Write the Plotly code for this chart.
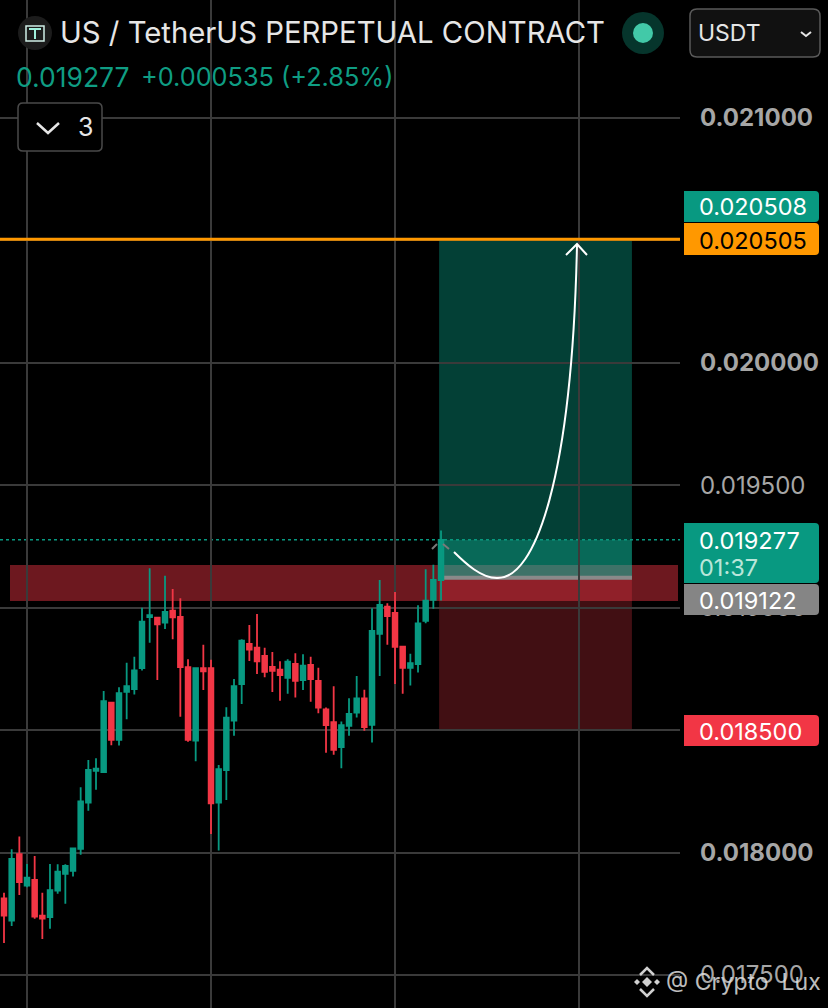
import plotly.graph_objects as go

WIDTH = 828
HEIGHT = 1008
PLOT_RIGHT = 680
FONT = "Inter"

GREEN = "#089981"
RED = "#F23645"
ORANGE = "#FF9800"
GRID = "#3a3a3a"

# prices in millionths of USDT
opens = [17813, 17722, 17993, 17865, 17888, 17742, 17736, 17844, 17913, 17925,
         18015, 18204, 18334, 18329, 18612, 18460, 18656, 18668, 18753, 18962,
         18959, 18939, 18988, 18962, 18757, 18457, 18753, 18753, 18204, 18337,
         18539, 18688, 18852, 18837, 18803, 18758, 18747, 18713, 18770, 18704,
         18766, 18701, 18585, 18532, 18431, 18517, 18571, 18630, 18521, 18893,
         19004, 18979, 18841, 18754, 18770, 18946, 19032, 19113]
highs = [17836, 18013, 18065, 17953, 17986, 17836, 17953, 17952, 17952, 18017,
         18267, 18378, 18385, 18660, 18612, 18675, 18775, 18800, 19000, 19161,
         18959, 19130, 19076, 19039, 18789, 18755, 18849, 18787, 18358, 18593,
         18709, 18871, 18929, 18974, 18836, 18819, 18781, 18789, 18814, 18810,
         18800, 18755, 18592, 18679, 18535, 18630, 18721, 18665, 18998, 19113,
         19018, 19064, 18845, 18812, 19010, 19157, 19175, 19315]
lows = [17630, 17700, 17827, 17858, 17730, 17647, 17689, 17832, 17791, 17902,
        17991, 18171, 18256, 18329, 18438, 18437, 18544, 18645, 18743, 18857,
        18705, 18913, 18871, 18555, 18452, 18373, 18664, 18076, 18008, 18215,
        18477, 18607, 18782, 18729, 18716, 18656, 18620, 18648, 18633, 18664,
        18616, 18569, 18408, 18399, 18344, 18477, 18551, 18497, 18449, 18721,
        18849, 18688, 18648, 18682, 18735, 18936, 18996, 19029]
closes = [17742, 17974, 17879, 17897, 17738, 17730, 17846, 17922, 17945, 18017,
          18209, 18337, 18343, 18618, 18460, 18651, 18680, 18744, 18943, 18970,
          18932, 18983, 18961, 18757, 18460, 18753, 18740, 18201, 18341, 18551,
          18680, 18865, 18829, 18781, 18738, 18742, 18725, 18780, 18701, 18763,
          18708, 18592, 18520, 18419, 18520, 18566, 18630, 18512, 18905, 19011,
          18966, 18840, 18754, 18773, 18936, 19029, 19113, 19277]
candle_index = list(range(len(opens)))

grid_candles = [3, 27, 51, 75]
price_ticks = [0.021, 0.0205, 0.02, 0.0195, 0.019, 0.0185, 0.018, 0.0175]
# 0.0205 and 0.0185 sit behind the price tags, so they carry no label
price_labels = ["<b>0.021000</b>", "", "<b>0.020000</b>", "0.019500",
                "0.019000", "", "<b>0.018000</b>", "0.017500"]

current_price = 0.019277
target_price = 0.020505
entry_price = 0.019122
stop_price = 0.0185
zone_top = 0.019174
zone_bottom = 0.019027
box_start = 56.75
box_end = 81.9


def px(x):
    return x / PLOT_RIGHT


def py(y):
    return 1 - y / HEIGHT


def path_of(points):
    return "M " + " L ".join(f"{px(x):.5f} {py(y):.5f}" for x, y in points)


def paper_rect(x0, y0, x1, y1, fill, line=None, layer="above"):
    return dict(type="rect", xref="paper", yref="paper", x0=px(x0), x1=px(x1), y0=py(y0), y1=py(y1),
                fillcolor=fill, line=dict(color=line or fill, width=1.5 if line else 0), layer=layer)


def rounded(x0, y0, x1, y1, r, fill, line=None):
    # rounded box as an svg path in paper coordinates
    rx, ry = r / PLOT_RIGHT, r / HEIGHT
    a, b, c, d = px(x0), py(y0), px(x1), py(y1)
    p = (f"M {a + rx} {b} L {c - rx} {b} Q {c} {b} {c} {b - ry} L {c} {d + ry} Q {c} {d} {c - rx} {d} "
         f"L {a + rx} {d} Q {a} {d} {a} {d + ry} L {a} {b - ry} Q {a} {b} {a + rx} {b} Z")
    return dict(type="path", xref="paper", yref="paper", path=p, fillcolor=fill,
                line=dict(color=line or fill, width=1.5 if line else 0), layer="above")


def tag(x0, y0, x1, y1, fill):
    # right price tags, square on the left and slightly rounded on the right
    rx, ry = 4 / PLOT_RIGHT, 4 / HEIGHT
    a, b, c, d = px(x0), py(y0), px(x1), py(y1)
    p = f"M {a} {b} L {c - rx} {b} Q {c} {b} {c} {b - ry} L {c} {d + ry} Q {c} {d} {c - rx} {d} L {a} {d} Z"
    return dict(type="path", xref="paper", yref="paper", path=p, fillcolor=fill, line=dict(width=0), layer="above")


def stroke(points, color, width, layer="above"):
    return dict(type="path", xref="paper", yref="paper", path=path_of(points),
                line=dict(color=color, width=width), layer=layer)


def box(y0, y1, fill):
    return dict(type="rect", xref="x", yref="y", x0=box_start, x1=box_end, y0=y0, y1=y1,
                fillcolor=fill, line=dict(width=0), layer="below")


def label(x, y, text, size, color, anchor="left"):
    return dict(xref="paper", yref="paper", x=px(x), y=py(y), text=text, showarrow=False,
                xanchor=anchor, yanchor="middle", font=dict(family=FONT, size=size, color=color),
                borderpad=0, borderwidth=0)


shapes = [
    # red resistance band, drawn first so the position boxes sit over it
    dict(type="rect", xref="paper", yref="y", x0=px(10), x1=px(678), y0=zone_bottom, y1=zone_top,
         fillcolor="rgba(242,54,69,0.45)", line=dict(width=0), layer="below"),
    box(current_price, target_price, "rgba(8,153,129,0.42)"),
    box(entry_price, current_price, "rgba(12,150,125,0.7)"),
    box(entry_price, zone_top, "rgb(62,114,104)"),
    box(stop_price, entry_price, "rgba(242,54,69,0.27)"),
    dict(type="line", xref="x", yref="y", x0=box_start + 0.3, x1=box_end, y0=entry_price, y1=entry_price,
         line=dict(color="#8a8a8a", width=4), layer="below"),
    dict(type="line", xref="paper", yref="y", x0=0, x1=1, y0=current_price, y1=current_price,
         line=dict(color=GREEN, width=1.5, dash="dot"), layer="below"),
    dict(type="line", xref="paper", yref="y", x0=0, x1=1, y0=target_price, y1=target_price,
         line=dict(color=ORANGE, width=3), layer="above"),
    # header mask over the grid
    paper_rect(15, 15, 610, 92, "rgba(0,0,0,0.8)", layer="below"),
    # drawn curve and arrow head
    dict(type="path", xref="paper", yref="paper",
         path=(f"M {px(454)} {py(552)} C {px(465)} {py(563)} {px(482)} {py(579)} {px(498)} {py(578)} "
               f"C {px(535)} {py(578)} {px(572)} {py(480)} {px(577)} {py(245)}"),
         line=dict(color="white", width=2), layer="above"),
    stroke([(566, 255), (577, 244), (587, 255)], "white", 2),
    stroke([(432, 549), (437, 544)], "#7a7a7a", 2),
    stroke([(443, 544), (449, 549)], "#7a7a7a", 2),
    # header icons and boxes
    dict(type="circle", xref="paper", yref="paper", x0=px(18), x1=px(52), y0=py(16), y1=py(50),
         fillcolor="#1c1c1c", line=dict(width=0), layer="above"),
    paper_rect(26, 26, 44, 41, "rgba(0,0,0,0)", line="#cfeee6"),
    stroke([(29, 29), (41, 29)], "#9ff0dc", 2),
    stroke([(35, 29), (35, 39)], "#9ff0dc", 2),
    rounded(18, 103, 102, 151, 5, "#000000", line="#4a4a4a"),
    stroke([(37, 123), (48, 133), (59, 123)], "#e6e6e6", 2.5),
    dict(type="circle", xref="paper", yref="paper", x0=px(622), x1=px(664), y0=py(12), y1=py(54),
         fillcolor="#06352c", line=dict(width=0), layer="above"),
    dict(type="circle", xref="paper", yref="paper", x0=px(633), x1=px(653), y0=py(23), y1=py(43),
         fillcolor="#42c9a8", line=dict(width=0), layer="above"),
    rounded(690, 9, 820, 57, 7, "#111111", line="#5a5a5a"),
    stroke([(801, 32), (806, 36), (811, 32)], "#e6e6e6", 2),
    # price tags
    tag(684, 191, 819, 222, GREEN),
    tag(684, 223, 819, 255, ORANGE),
    tag(684, 523, 819, 583, GREEN),
    tag(684, 584, 819, 615, "#858585"),
    tag(684, 715, 819, 746, RED),
    # watermark logo
    stroke([(640, 975), (647, 968), (654, 975)], "#d0d0d0", 2.5),
    stroke([(640, 989), (647, 996), (654, 989)], "#d0d0d0", 2.5),
    dict(type="path", xref="paper", yref="paper", layer="above", fillcolor="#d0d0d0", line=dict(width=0),
         path=path_of([(647, 977), (652, 982), (647, 987), (642, 982)]) + " Z"),
    dict(type="path", xref="paper", yref="paper", layer="above", fillcolor="#d0d0d0", line=dict(width=0),
         path=path_of([(637, 979), (640, 982), (637, 985), (634, 982)]) + " Z"),
    dict(type="path", xref="paper", yref="paper", layer="above", fillcolor="#d0d0d0", line=dict(width=0),
         path=path_of([(657, 979), (660, 982), (657, 985), (654, 982)]) + " Z"),
]

annotations = [
    label(60, 33, "US / TetherUS PERPETUAL CONTRACT", 29.3, "#e6e6e6"),
    label(16, 77, "0.019277", 26.5, "#0f9d83"),
    label(141, 77, "+0.000535 (+2.85%)", 25.3, "#0f9d83"),
    label(78, 127, "3", 25, "#e6e6e6"),
    label(698, 33, "USDT", 23, "#e6e6e6"),
    label(699, 207, "0.020508", 23.5, "#ffffff"),
    label(699, 240, "0.020505", 23.5, "#000000"),
    label(699, 540, "0.019277", 23.5, "#ffffff"),
    label(699, 567, "01:37", 23.5, "#b9e6da"),
    label(699, 600, "0.019122", 23.5, "#ffffff"),
    label(699, 731, "0.018500", 23.5, "#ffffff"),
    label(666, 982, "@ Crypto  Lux", 23, "rgba(225,225,225,0.85)"),
]

fig = go.Figure()
fig.add_trace(go.Candlestick(
    x=candle_index,
    open=[v / 1e6 for v in opens],
    high=[v / 1e6 for v in highs],
    low=[v / 1e6 for v in lows],
    close=[v / 1e6 for v in closes],
    increasing=dict(line=dict(color=GREEN, width=1.8), fillcolor=GREEN),
    decreasing=dict(line=dict(color=RED, width=1.8), fillcolor=RED),
    showlegend=False,
))

fig.update_layout(
    width=WIDTH,
    height=HEIGHT,
    margin=dict(l=0, r=WIDTH - PLOT_RIGHT, t=0, b=0, pad=0),
    paper_bgcolor="#000000",
    plot_bgcolor="#000000",
    showlegend=False,
    boxgap=0.39,
    boxgroupgap=0,
    shapes=shapes,
    annotations=annotations,
    xaxis=dict(range=[-0.522, 88.17], tickvals=grid_candles, showticklabels=False, showgrid=True,
               gridcolor=GRID, gridwidth=1.5, zeroline=False, showline=False, ticks="",
               rangeslider=dict(visible=False)),
    yaxis=dict(range=[0.017365, 0.021482], side="right", tickvals=price_ticks, ticktext=price_labels,
               showgrid=True, gridcolor=GRID, gridwidth=1.5, zeroline=False, showline=False, ticks="",
               ticklabelstandoff=19, tickfont=dict(family=FONT, size=24, color="#a6a6a6")),
)

# the page's default body margin would shift everything by 8px
fig.write_html("out.html", config=dict(displayModeBar=False),
               post_script="document.body.style.margin='0';document.body.style.background='#000';")
